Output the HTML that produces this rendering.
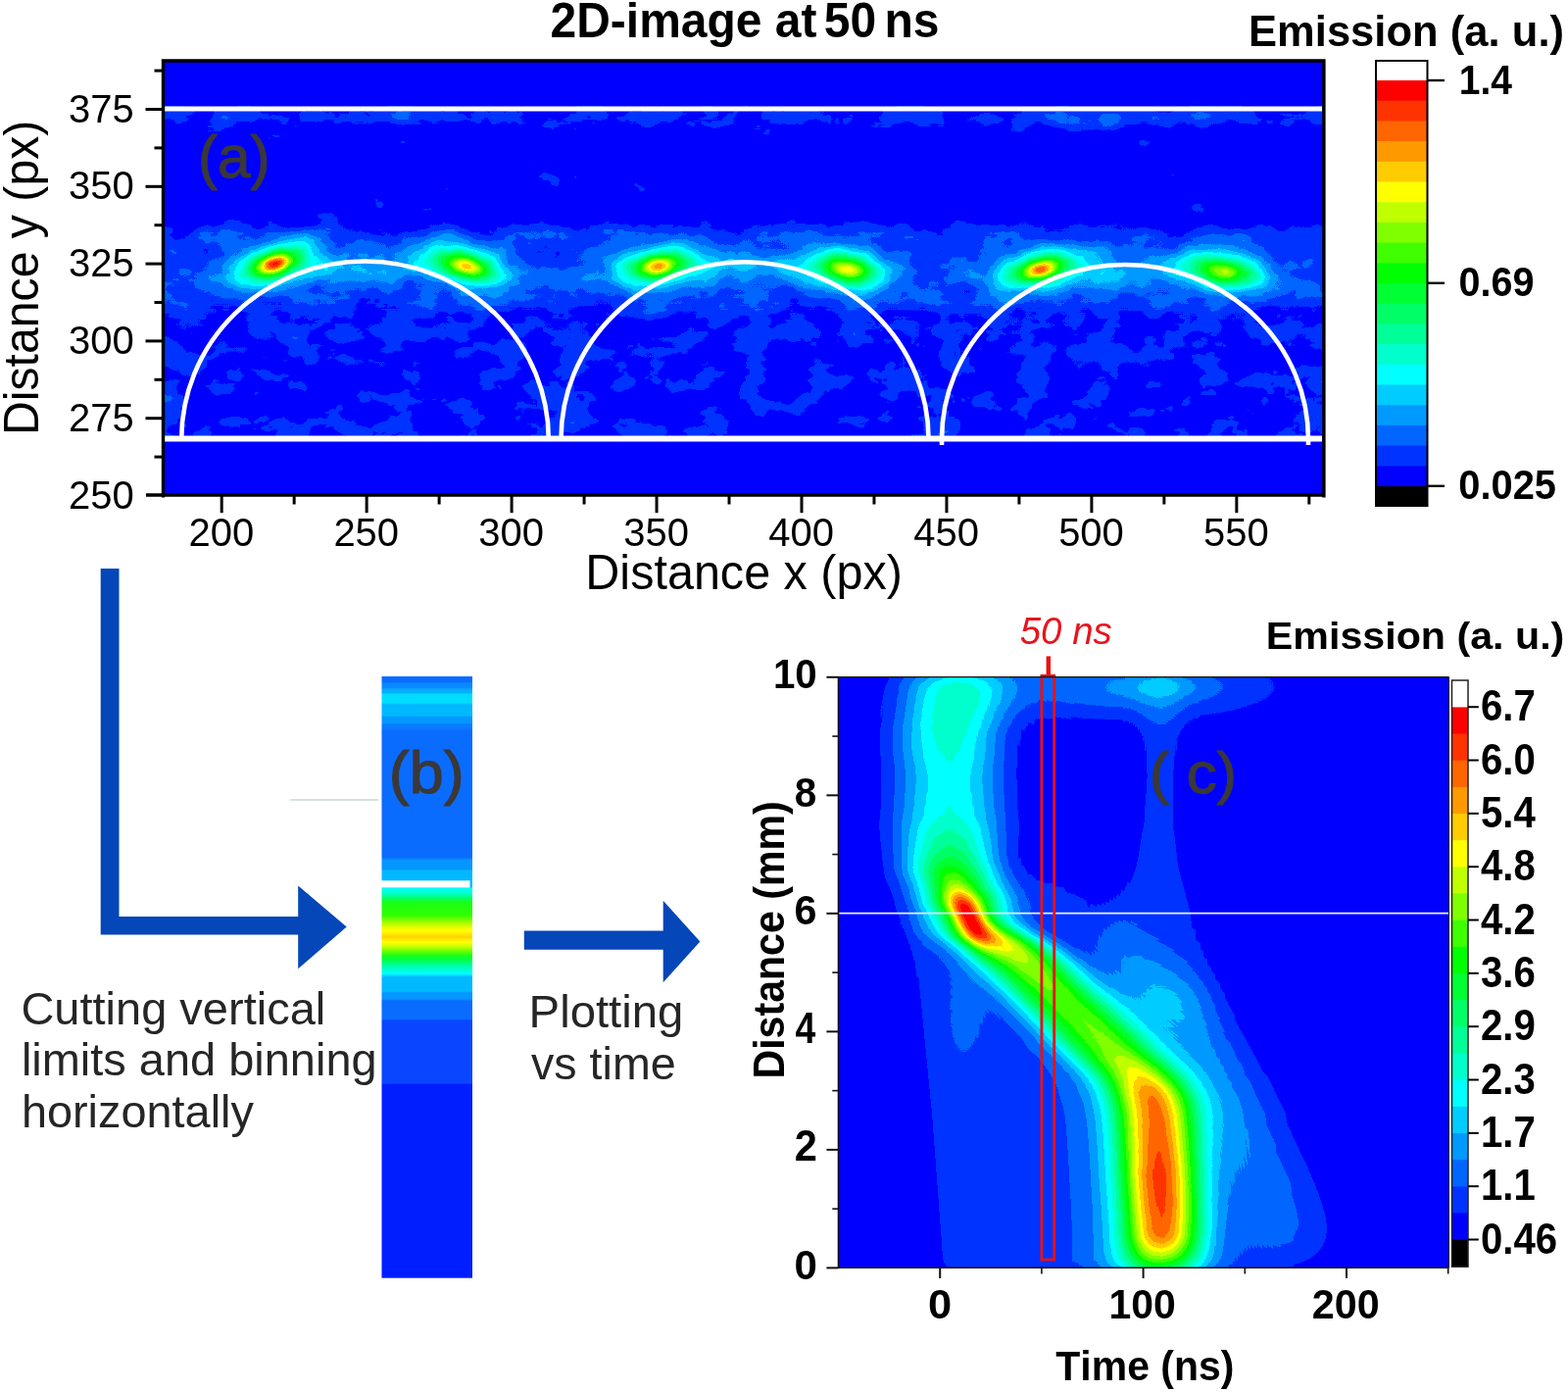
<!DOCTYPE html>
<html lang="en"><head><meta charset="utf-8"><title>2D-image at 50 ns</title>
<style>
html,body{margin:0;padding:0;background:#fff;}
body{width:1600px;height:1420px;overflow:hidden;}
svg{display:block;}
text{font-family:"Liberation Sans",sans-serif;font-kerning:none;}
.b{font-weight:bold;}
</style></head><body>
<svg width="1600" height="1420" viewBox="0 0 1600 1420">
<defs>
<radialGradient id="gs" cx="0.5" cy="0.5" r="0.5"><stop offset="0" stop-color="#fff" stop-opacity="1"/><stop offset="0.071" stop-color="#fff" stop-opacity="0.977"/><stop offset="0.143" stop-color="#fff" stop-opacity="0.912"/><stop offset="0.214" stop-color="#fff" stop-opacity="0.813"/><stop offset="0.286" stop-color="#fff" stop-opacity="0.693"/><stop offset="0.357" stop-color="#fff" stop-opacity="0.563"/><stop offset="0.429" stop-color="#fff" stop-opacity="0.438"/><stop offset="0.5" stop-color="#fff" stop-opacity="0.325"/><stop offset="0.571" stop-color="#fff" stop-opacity="0.23"/><stop offset="0.643" stop-color="#fff" stop-opacity="0.156"/><stop offset="0.714" stop-color="#fff" stop-opacity="0.101"/><stop offset="0.786" stop-color="#fff" stop-opacity="0.062"/><stop offset="0.857" stop-color="#fff" stop-opacity="0.037"/><stop offset="0.929" stop-color="#fff" stop-opacity="0.021"/><stop offset="1" stop-color="#fff" stop-opacity="0"/></radialGradient>
<filter id="cmA" filterUnits="userSpaceOnUse" x="166" y="108" width="1186" height="342" color-interpolation-filters="sRGB">
<feTurbulence type="fractalNoise" baseFrequency="0.028 0.04" numOctaves="4" seed="11" result="n"/>
<feColorMatrix in="n" type="matrix" values="1 0 0 0 0 1 0 0 0 0 1 0 0 0 0 0 0 0 0 1" result="ng"/>
<feComposite in="SourceGraphic" in2="ng" operator="arithmetic" k1="0" k2="1" k3="0.10" k4="-0.05" result="m"/>
<feComponentTransfer>
<feFuncR type="discrete" tableValues="0 0 0 0 0 0 0 0 0 0 0 0.251 0.502 0.749 1 1 1 1 1 1 1 1 1 1 1 1 1 1"/>
<feFuncG type="discrete" tableValues="0 0.2 0.4 0.6 0.8 1 1 1 1 1 1 1 1 1 1 0.8 0.6 0.4 0.2 0 0 0 0 0 0 0 0 0"/>
<feFuncB type="discrete" tableValues="1 1 1 1 1 1 0.8 0.6 0.4 0.2 0 0 0 0 0 0 0 0 0 0 0 0 0 0 0 0 0 0"/>
</feComponentTransfer><feGaussianBlur stdDeviation="0.6"/>
</filter>
<filter id="cmC" filterUnits="userSpaceOnUse" x="856" y="691" width="622" height="602" color-interpolation-filters="sRGB">
<feComponentTransfer>
<feFuncR type="discrete" tableValues="0 0 0 0 0 0 0 0 0 0 0 0.251 0.502 0.749 1 1 1 1 1 1 1 1 1 1 1 1 1 1"/>
<feFuncG type="discrete" tableValues="0 0.2 0.4 0.6 0.8 1 1 1 1 1 1 1 1 1 1 0.8 0.6 0.4 0.2 0 0 0 0 0 0 0 0 0"/>
<feFuncB type="discrete" tableValues="1 1 1 1 1 1 0.8 0.6 0.4 0.2 0 0 0 0 0 0 0 0 0 0 0 0 0 0 0 0 0 0"/>
</feComponentTransfer><feGaussianBlur stdDeviation="0.7"/>
</filter>
<filter id="bC8" filterUnits="userSpaceOnUse" x="706" y="541" width="922" height="902" color-interpolation-filters="sRGB"><feGaussianBlur stdDeviation="8"/></filter>
<filter id="bA6" filterUnits="userSpaceOnUse" x="66" y="8" width="1386" height="542" color-interpolation-filters="sRGB"><feGaussianBlur stdDeviation="6"/></filter>
<filter id="bA12" filterUnits="userSpaceOnUse" x="66" y="8" width="1386" height="542" color-interpolation-filters="sRGB"><feGaussianBlur stdDeviation="12"/></filter>
<clipPath id="clA"><rect x="166" y="108" width="1186" height="342"/></clipPath>
<clipPath id="clC"><rect x="856" y="691" width="622" height="602"/></clipPath>
<linearGradient id="gb" gradientUnits="userSpaceOnUse" x1="0" y1="690" x2="0" y2="1304"><stop offset="0" stop-color="#0a6cff"/><stop offset="0.009" stop-color="#0a6cff"/><stop offset="0.011" stop-color="#0a84ff"/><stop offset="0.019" stop-color="#0a8cff"/><stop offset="0.021" stop-color="#05a8ff"/><stop offset="0.027" stop-color="#05b0ff"/><stop offset="0.03" stop-color="#00dcff"/><stop offset="0.044" stop-color="#00dcff"/><stop offset="0.047" stop-color="#00b8ff"/><stop offset="0.065" stop-color="#00b8ff"/><stop offset="0.068" stop-color="#0596ff"/><stop offset="0.077" stop-color="#0596ff"/><stop offset="0.08" stop-color="#087cff"/><stop offset="0.086" stop-color="#087cff"/><stop offset="0.09" stop-color="#0a6cff"/><stop offset="0.301" stop-color="#0a6cff"/><stop offset="0.305" stop-color="#0596ff"/><stop offset="0.32" stop-color="#0596ff"/><stop offset="0.323" stop-color="#00b8ff"/><stop offset="0.35" stop-color="#00b8ff"/><stop offset="0.352" stop-color="#00fff0"/><stop offset="0.36" stop-color="#00ffd0"/><stop offset="0.368" stop-color="#00ff70"/><stop offset="0.375" stop-color="#18ff18"/><stop offset="0.397" stop-color="#30ff00"/><stop offset="0.407" stop-color="#90ff00"/><stop offset="0.417" stop-color="#e8ff00"/><stop offset="0.423" stop-color="#ffff00"/><stop offset="0.433" stop-color="#ffd200"/><stop offset="0.441" stop-color="#ffff00"/><stop offset="0.448" stop-color="#d0ff00"/><stop offset="0.456" stop-color="#70ff00"/><stop offset="0.464" stop-color="#18ff18"/><stop offset="0.472" stop-color="#00ff50"/><stop offset="0.48" stop-color="#00ffa0"/><stop offset="0.489" stop-color="#00ffe0"/><stop offset="0.494" stop-color="#00ffff"/><stop offset="0.497" stop-color="#00d8ff"/><stop offset="0.5" stop-color="#00b8ff"/><stop offset="0.523" stop-color="#00b8ff"/><stop offset="0.526" stop-color="#0596ff"/><stop offset="0.536" stop-color="#0596ff"/><stop offset="0.539" stop-color="#0a6cff"/><stop offset="0.569" stop-color="#0a6cff"/><stop offset="0.572" stop-color="#0a46ff"/><stop offset="0.676" stop-color="#0a46ff"/><stop offset="0.678" stop-color="#001eff"/><stop offset="1" stop-color="#001eff"/></linearGradient>
<linearGradient id="gr1" gradientUnits="userSpaceOnUse" x1="0" y1="680" x2="0" y2="1302"><stop offset="0" stop-color="#fff" stop-opacity="0.084"/><stop offset="0.016" stop-color="#fff" stop-opacity="0.099"/><stop offset="0.032" stop-color="#fff" stop-opacity="0.153"/><stop offset="0.048" stop-color="#fff" stop-opacity="0.167"/><stop offset="0.092" stop-color="#fff" stop-opacity="0.178"/><stop offset="0.137" stop-color="#fff" stop-opacity="0.164"/><stop offset="0.153" stop-color="#fff" stop-opacity="0.156"/><stop offset="0.161" stop-color="#fff" stop-opacity="0.149"/><stop offset="0.193" stop-color="#fff" stop-opacity="0.145"/><stop offset="0.228" stop-color="#fff" stop-opacity="0.151"/><stop offset="0.249" stop-color="#fff" stop-opacity="0.162"/><stop offset="0.257" stop-color="#fff" stop-opacity="0.174"/><stop offset="0.27" stop-color="#fff" stop-opacity="0.194"/><stop offset="0.305" stop-color="#fff" stop-opacity="0.256"/><stop offset="0.322" stop-color="#fff" stop-opacity="0.308"/><stop offset="0.331" stop-color="#fff" stop-opacity="0.334"/><stop offset="0.338" stop-color="#fff" stop-opacity="0.351"/><stop offset="0.346" stop-color="#fff" stop-opacity="0.367"/><stop offset="0.354" stop-color="#fff" stop-opacity="0.375"/><stop offset="0.362" stop-color="#fff" stop-opacity="0.391"/><stop offset="0.37" stop-color="#fff" stop-opacity="0.395"/><stop offset="0.378" stop-color="#fff" stop-opacity="0.437"/><stop offset="0.381" stop-color="#fff" stop-opacity="0.453"/><stop offset="0.386" stop-color="#fff" stop-opacity="0.448"/><stop offset="0.391" stop-color="#fff" stop-opacity="0.445"/><stop offset="0.394" stop-color="#fff" stop-opacity="0.43"/><stop offset="0.402" stop-color="#fff" stop-opacity="0.404"/><stop offset="0.41" stop-color="#fff" stop-opacity="0.403"/><stop offset="0.418" stop-color="#fff" stop-opacity="0.413"/><stop offset="0.426" stop-color="#fff" stop-opacity="0.462"/><stop offset="0.429" stop-color="#fff" stop-opacity="0.493"/><stop offset="0.434" stop-color="#fff" stop-opacity="0.53"/><stop offset="0.439" stop-color="#fff" stop-opacity="0.556"/><stop offset="0.442" stop-color="#fff" stop-opacity="0.561"/><stop offset="0.45" stop-color="#fff" stop-opacity="0.561"/><stop offset="0.458" stop-color="#fff" stop-opacity="0.518"/><stop offset="0.46" stop-color="#fff" stop-opacity="0.507"/><stop offset="0.466" stop-color="#fff" stop-opacity="0.49"/><stop offset="0.474" stop-color="#fff" stop-opacity="0.466"/><stop offset="0.482" stop-color="#fff" stop-opacity="0.442"/><stop offset="0.49" stop-color="#fff" stop-opacity="0.419"/><stop offset="0.516" stop-color="#fff" stop-opacity="0.393"/><stop offset="0.584" stop-color="#fff" stop-opacity="0.382"/><stop offset="0.595" stop-color="#fff" stop-opacity="0.387"/><stop offset="0.611" stop-color="#fff" stop-opacity="0.379"/><stop offset="0.627" stop-color="#fff" stop-opacity="0.38"/><stop offset="0.651" stop-color="#fff" stop-opacity="0.425"/><stop offset="0.675" stop-color="#fff" stop-opacity="0.478"/><stop offset="0.699" stop-color="#fff" stop-opacity="0.57"/><stop offset="0.701" stop-color="#fff" stop-opacity="0.574"/><stop offset="0.707" stop-color="#fff" stop-opacity="0.572"/><stop offset="0.796" stop-color="#fff" stop-opacity="0.623"/><stop offset="0.836" stop-color="#fff" stop-opacity="0.651"/><stop offset="0.887" stop-color="#fff" stop-opacity="0.642"/><stop offset="0.936" stop-color="#fff" stop-opacity="0.604"/><stop offset="0.961" stop-color="#fff" stop-opacity="0.45"/><stop offset="0.984" stop-color="#fff" stop-opacity="0.256"/><stop offset="1" stop-color="#fff" stop-opacity="0.158"/></linearGradient><linearGradient id="gr2" gradientUnits="userSpaceOnUse" x1="0" y1="680" x2="0" y2="1302"><stop offset="0" stop-color="#fff" stop-opacity="0.114"/><stop offset="0.322" stop-color="#fff" stop-opacity="0.114"/><stop offset="0.41" stop-color="#fff" stop-opacity="0.152"/><stop offset="0.595" stop-color="#fff" stop-opacity="0.127"/><stop offset="0.707" stop-color="#fff" stop-opacity="0.279"/><stop offset="1" stop-color="#fff" stop-opacity="0.279"/></linearGradient><linearGradient id="gr3" gradientUnits="userSpaceOnUse" x1="0" y1="680" x2="0" y2="1302"><stop offset="0" stop-color="#fff" stop-opacity="0.04"/><stop offset="0.08" stop-color="#fff" stop-opacity="0.06"/><stop offset="0.096" stop-color="#fff" stop-opacity="0.066"/><stop offset="0.129" stop-color="#fff" stop-opacity="0.084"/><stop offset="0.177" stop-color="#fff" stop-opacity="0.092"/><stop offset="0.193" stop-color="#fff" stop-opacity="0.083"/><stop offset="0.257" stop-color="#fff" stop-opacity="0.066"/><stop offset="0.322" stop-color="#fff" stop-opacity="0.053"/><stop offset="0.386" stop-color="#fff" stop-opacity="0.05"/><stop offset="0.402" stop-color="#fff" stop-opacity="0.05"/><stop offset="0.45" stop-color="#fff" stop-opacity="0.041"/><stop offset="0.514" stop-color="#fff" stop-opacity="0.029"/><stop offset="0.611" stop-color="#fff" stop-opacity="0"/></linearGradient><linearGradient id="gr4" gradientUnits="userSpaceOnUse" x1="0" y1="680" x2="0" y2="1302"><stop offset="0.322" stop-color="#fff" stop-opacity="0"/><stop offset="0.37" stop-color="#fff" stop-opacity="0.06"/><stop offset="0.45" stop-color="#fff" stop-opacity="0.082"/><stop offset="0.498" stop-color="#fff" stop-opacity="0.132"/><stop offset="0.547" stop-color="#fff" stop-opacity="0.208"/><stop offset="0.611" stop-color="#fff" stop-opacity="0.175"/><stop offset="0.691" stop-color="#fff" stop-opacity="0.121"/><stop offset="0.879" stop-color="#fff" stop-opacity="0.126"/><stop offset="0.932" stop-color="#fff" stop-opacity="0.121"/><stop offset="0.973" stop-color="#fff" stop-opacity="0.077"/><stop offset="1" stop-color="#fff" stop-opacity="0.033"/></linearGradient><filter id="bx1" filterUnits="userSpaceOnUse" x="656" y="591" width="1022" height="802" color-interpolation-filters="sRGB"><feGaussianBlur stdDeviation="22 5"/></filter><filter id="bx2" filterUnits="userSpaceOnUse" x="656" y="591" width="1022" height="802" color-interpolation-filters="sRGB"><feGaussianBlur stdDeviation="45 8"/></filter><filter id="bx3" filterUnits="userSpaceOnUse" x="656" y="591" width="1022" height="802" color-interpolation-filters="sRGB"><feGaussianBlur stdDeviation="14 8"/></filter><filter id="bx4" filterUnits="userSpaceOnUse" x="656" y="591" width="1022" height="802" color-interpolation-filters="sRGB"><feGaussianBlur stdDeviation="32 10"/></filter>
</defs>
<rect width="1600" height="1420" fill="#fff"/>
<rect x="166" y="62" width="1185" height="443" fill="#0000FF"/>
<g filter="url(#cmA)"><g clip-path="url(#clA)" style="isolation:isolate">
<rect x="166" y="108" width="1186" height="342" fill="#000"/>
<g style="mix-blend-mode:plus-lighter"><rect x="166" y="108" width="1186" height="342" fill="#fff" opacity="0.006"/></g>
<g filter="url(#bA6)" style="mix-blend-mode:plus-lighter"><rect x="100" y="231" width="1320" height="84" fill="#fff" opacity="0.048"/></g>
<g filter="url(#bA12)" style="mix-blend-mode:plus-lighter"><rect x="100" y="315" width="1320" height="150" fill="#fff" opacity="0.021"/></g>
<g filter="url(#bA6)" style="mix-blend-mode:plus-lighter"><rect x="100" y="110" width="1320" height="18" fill="#fff" opacity="0.04"/></g>
<g filter="url(#bA12)" style="mix-blend-mode:plus-lighter"><rect x="140" y="320" width="56" height="140" fill="#fff" opacity="0.02"/></g>
<g filter="url(#bA12)" style="mix-blend-mode:plus-lighter"><rect x="548" y="320" width="38" height="140" fill="#fff" opacity="0.02"/></g>
<g filter="url(#bA12)" style="mix-blend-mode:plus-lighter"><rect x="936" y="320" width="38" height="140" fill="#fff" opacity="0.02"/></g>
<g filter="url(#bA12)" style="mix-blend-mode:plus-lighter"><rect x="1326" y="320" width="54" height="140" fill="#fff" opacity="0.02"/></g>
<g style="mix-blend-mode:plus-lighter"><ellipse cx="372.5" cy="330" rx="285" ry="66" fill="url(#gs)" opacity="0.014"/></g>
<g style="mix-blend-mode:plus-lighter"><ellipse cx="761" cy="330" rx="285" ry="66" fill="url(#gs)" opacity="0.014"/></g>
<g style="mix-blend-mode:plus-lighter"><ellipse cx="1149" cy="330" rx="285" ry="66" fill="url(#gs)" opacity="0.014"/></g>
<g style="mix-blend-mode:plus-lighter"><ellipse cx="281" cy="269" rx="165" ry="60" fill="url(#gs)" opacity="0.043" transform="rotate(-8 281 269)"/></g>
<g style="mix-blend-mode:plus-lighter"><ellipse cx="281" cy="269" rx="81" ry="37.5" fill="url(#gs)" opacity="0.3" transform="rotate(-16 281 269)"/></g>
<g style="mix-blend-mode:plus-lighter"><ellipse cx="281" cy="269" rx="31.5" ry="16.5" fill="url(#gs)" opacity="0.271" transform="rotate(-16 281 269)"/></g>
<g style="mix-blend-mode:plus-lighter"><ellipse cx="475.6" cy="271.2" rx="165" ry="60" fill="url(#gs)" opacity="0.043" transform="rotate(7.5 475.6 271.2)"/></g>
<g style="mix-blend-mode:plus-lighter"><ellipse cx="475.6" cy="271.2" rx="81" ry="37.5" fill="url(#gs)" opacity="0.3" transform="rotate(15 475.6 271.2)"/></g>
<g style="mix-blend-mode:plus-lighter"><ellipse cx="475.6" cy="271.2" rx="31.5" ry="16.5" fill="url(#gs)" opacity="0.157" transform="rotate(15 475.6 271.2)"/></g>
<g style="mix-blend-mode:plus-lighter"><ellipse cx="671.3" cy="272" rx="165" ry="60" fill="url(#gs)" opacity="0.043" transform="rotate(-4.5 671.3 272)"/></g>
<g style="mix-blend-mode:plus-lighter"><ellipse cx="671.3" cy="272" rx="81" ry="37.5" fill="url(#gs)" opacity="0.3" transform="rotate(-9 671.3 272)"/></g>
<g style="mix-blend-mode:plus-lighter"><ellipse cx="671.3" cy="272" rx="31.5" ry="16.5" fill="url(#gs)" opacity="0.157" transform="rotate(-9 671.3 272)"/></g>
<g style="mix-blend-mode:plus-lighter"><ellipse cx="863.8" cy="274.5" rx="165" ry="60" fill="url(#gs)" opacity="0.043" transform="rotate(5.5 863.8 274.5)"/></g>
<g style="mix-blend-mode:plus-lighter"><ellipse cx="863.8" cy="274.5" rx="81" ry="37.5" fill="url(#gs)" opacity="0.3" transform="rotate(11 863.8 274.5)"/></g>
<g style="mix-blend-mode:plus-lighter"><ellipse cx="863.8" cy="274.5" rx="31.5" ry="16.5" fill="url(#gs)" opacity="0.107" transform="rotate(11 863.8 274.5)"/></g>
<g style="mix-blend-mode:plus-lighter"><ellipse cx="1061.3" cy="275" rx="165" ry="60" fill="url(#gs)" opacity="0.043" transform="rotate(-5.5 1061.3 275)"/></g>
<g style="mix-blend-mode:plus-lighter"><ellipse cx="1061.3" cy="275" rx="81" ry="37.5" fill="url(#gs)" opacity="0.3" transform="rotate(-11 1061.3 275)"/></g>
<g style="mix-blend-mode:plus-lighter"><ellipse cx="1061.3" cy="275" rx="31.5" ry="16.5" fill="url(#gs)" opacity="0.207" transform="rotate(-11 1061.3 275)"/></g>
<g style="mix-blend-mode:plus-lighter"><ellipse cx="1248.8" cy="276.3" rx="165" ry="60" fill="url(#gs)" opacity="0.043" transform="rotate(5 1248.8 276.3)"/></g>
<g style="mix-blend-mode:plus-lighter"><ellipse cx="1248.8" cy="276.3" rx="81" ry="37.5" fill="url(#gs)" opacity="0.286" transform="rotate(10 1248.8 276.3)"/></g>
<g style="mix-blend-mode:plus-lighter"><ellipse cx="1248.8" cy="276.3" rx="31.5" ry="16.5" fill="url(#gs)" opacity="0.071" transform="rotate(10 1248.8 276.3)"/></g>
<g style="mix-blend-mode:plus-lighter"><ellipse cx="372.5" cy="274.5" rx="186" ry="30" fill="url(#gs)" opacity="0.071"/></g>
<g style="mix-blend-mode:plus-lighter"><ellipse cx="761" cy="275.5" rx="186" ry="30" fill="url(#gs)" opacity="0.071"/></g>
<g style="mix-blend-mode:plus-lighter"><ellipse cx="1149" cy="279" rx="186" ry="30" fill="url(#gs)" opacity="0.071"/></g>
<g style="mix-blend-mode:plus-lighter"><ellipse cx="1120" cy="123" rx="165" ry="18" fill="url(#gs)" opacity="0.036"/></g>
</g></g>
<g stroke="#fff" fill="none">
<path d="M167 111H1349" stroke-width="5"/>
<path d="M167 447.6H1349" stroke-width="6"/>
<path d="M185.2 448V448A187.3 181.5 0 0 1 559.8 448V448" stroke-width="4.6"/>
<path d="M572.5 449V448A187.5 180.7 0 0 1 947.5 448V449" stroke-width="4.6"/>
<path d="M961 454V448A187 178 0 0 1 1335 448V454" stroke-width="4.6"/>
</g>
<path d="M166.5 60.3V507.4M165 62H1352.6M1350.9 60.3V507.4M149 505H1352.6" stroke="#000" stroke-width="3.4" fill="none"/>
<g stroke="#000" stroke-width="3" fill="none">
<path d="M157.5 466.1H166"/>
<path d="M148.5 426.7H166"/>
<path d="M157.5 387.3H166"/>
<path d="M148.5 347.9H166"/>
<path d="M157.5 308.5H166"/>
<path d="M148.5 269.1H166"/>
<path d="M157.5 229.7H166"/>
<path d="M148.5 190.3H166"/>
<path d="M157.5 150.9H166"/>
<path d="M148.5 111.5H166"/>
<path d="M157.5 72.1H166"/>
<path d="M226.2 505V523.2"/>
<path d="M300.17 505V514.5"/>
<path d="M374.15 505V523.2"/>
<path d="M448.12 505V514.5"/>
<path d="M522.1 505V523.2"/>
<path d="M596.07 505V514.5"/>
<path d="M670.05 505V523.2"/>
<path d="M744.02 505V514.5"/>
<path d="M818 505V523.2"/>
<path d="M891.97 505V514.5"/>
<path d="M965.95 505V523.2"/>
<path d="M1039.92 505V514.5"/>
<path d="M1113.9 505V523.2"/>
<path d="M1187.87 505V514.5"/>
<path d="M1261.85 505V523.2"/>
<path d="M1335.82 505V514.5"/>
</g>
<g font-size="40" fill="#000">
<text x="136.8" y="518.5" text-anchor="end">250</text>
<text x="136.8" y="439.7" text-anchor="end">275</text>
<text x="136.8" y="360.9" text-anchor="end">300</text>
<text x="136.8" y="282.1" text-anchor="end">325</text>
<text x="136.8" y="203.3" text-anchor="end">350</text>
<text x="136.8" y="124.5" text-anchor="end">375</text>
<text x="225.8" y="556.7" text-anchor="middle">200</text>
<text x="373.75" y="556.7" text-anchor="middle">250</text>
<text x="521.7" y="556.7" text-anchor="middle">300</text>
<text x="669.65" y="556.7" text-anchor="middle">350</text>
<text x="817.6" y="556.7" text-anchor="middle">400</text>
<text x="965.55" y="556.7" text-anchor="middle">450</text>
<text x="1113.5" y="556.7" text-anchor="middle">500</text>
<text x="1261.45" y="556.7" text-anchor="middle">550</text>
</g>
<rect x="1404" y="62" width="52.5" height="21" fill="#fff"/>
<rect x="1404" y="82" width="52.5" height="21.3" fill="#FF0000"/>
<rect x="1404" y="102.7" width="52.5" height="21.3" fill="#FF3300"/>
<rect x="1404" y="123.4" width="52.5" height="21.3" fill="#FF6600"/>
<rect x="1404" y="144.1" width="52.5" height="21.3" fill="#FF9900"/>
<rect x="1404" y="164.8" width="52.5" height="21.3" fill="#FFCC00"/>
<rect x="1404" y="185.5" width="52.5" height="21.3" fill="#FFFF00"/>
<rect x="1404" y="206.2" width="52.5" height="21.3" fill="#BFFF00"/>
<rect x="1404" y="226.9" width="52.5" height="21.3" fill="#80FF00"/>
<rect x="1404" y="247.6" width="52.5" height="21.3" fill="#40FF00"/>
<rect x="1404" y="268.3" width="52.5" height="21.3" fill="#00FF00"/>
<rect x="1404" y="289" width="52.5" height="21.3" fill="#00FF33"/>
<rect x="1404" y="309.7" width="52.5" height="21.3" fill="#00FF66"/>
<rect x="1404" y="330.4" width="52.5" height="21.3" fill="#00FF99"/>
<rect x="1404" y="351.1" width="52.5" height="21.3" fill="#00FFCC"/>
<rect x="1404" y="371.8" width="52.5" height="21.3" fill="#00FFFF"/>
<rect x="1404" y="392.5" width="52.5" height="21.3" fill="#00CCFF"/>
<rect x="1404" y="413.2" width="52.5" height="21.3" fill="#0099FF"/>
<rect x="1404" y="433.9" width="52.5" height="21.3" fill="#0066FF"/>
<rect x="1404" y="454.6" width="52.5" height="21.3" fill="#0033FF"/>
<rect x="1404" y="475.3" width="52.5" height="21.3" fill="#0000FF"/>
<rect x="1404" y="496" width="52.5" height="20" fill="#000"/>
<rect x="1404" y="62" width="52.5" height="454" fill="none" stroke="#000" stroke-width="2"/>
<path d="M1456.5 82H1474" stroke="#000" stroke-width="2.4"/>
<path d="M1456.5 288.8H1474" stroke="#000" stroke-width="2.4"/>
<path d="M1456.5 495.8H1474" stroke="#000" stroke-width="2.4"/>
<text class="b" font-size="42.88" transform="translate(1488.79 96.40) scale(0.9096 1)" fill="#000">1.4</text>
<text class="b" font-size="41.67" transform="translate(1488.43 302.39) scale(0.9499 1)" fill="#000">0.69</text>
<text class="b" font-size="41.67" transform="translate(1488.22 509.29) scale(0.9570 1)" fill="#000">0.025</text>
<text class="b" font-size="48" transform="translate(561.5 38.4) scale(1 1.035)">2D-image at<tspan dx="-6"> 50</tspan><tspan dx="-5"> ns</tspan></text>
<text class="b" font-size="43.5" x="1274" y="47.3" textLength="322" lengthAdjust="spacing">Emission (a. u.)</text>
<text font-size="48.2" transform="translate(39.3 444) rotate(-90) scale(1 1.055)">Distance y (px)</text>
<text font-size="48.55" transform="translate(597.3 600.6) scale(1 1.047)">Distance x (px)</text>
<text font-size="60.75" transform="translate(201.97 180.72) scale(0.9908 1)" fill="#3a3838" stroke="#3a3838" stroke-width="1.2" stroke-linejoin="round">(a)</text>
<rect x="389.5" y="690" width="92.5" height="613.7" fill="url(#gb)"/>
<rect x="386" y="898.3" width="93.5" height="7.2" fill="#fff"/>
<path d="M296 816H386" stroke="#c8d8d0" stroke-width="1.6" fill="none"/>
<path fill="#0546B9" d="M102.7 580H121.5V935H304.2V903.4L353.7 945.6L304.2 988.2V953.6H102.7Z"/>
<path fill="#0546B9" d="M534.8 949.6H676.7V918.8L714.3 960.5L676.7 1002.3V968.8H534.8Z"/>
<g font-size="45.5" fill="#262626">
<text transform="translate(21.4 1044.6) scale(1.033 1)">Cutting vertical</text>
<text transform="translate(21.9 1097.2) scale(1.032 1)">limits and binning</text>
<text transform="translate(21.9 1149.7) scale(1.03 1)">horizontally</text>
<text transform="translate(539.6 1048.2) scale(1.04 1)">Plotting</text>
<text transform="translate(542 1100.7) scale(1.025 1)">vs time</text>
</g>
<text font-size="61.29" transform="translate(396.80 808.61) scale(1.0252 1)" fill="#3a3838" stroke="#3a3838" stroke-width="1.2" stroke-linejoin="round">(b)</text>
<rect x="856" y="691" width="622" height="602" fill="#0000FF"/>
<g filter="url(#cmC)"><g clip-path="url(#clC)" style="isolation:isolate">
<rect x="856" y="691" width="622" height="602" fill="#000"/>
<g filter="url(#bx2)" style="mix-blend-mode:plus-lighter"><path d="M942 680 941.742 684 941.44 688 941.099 692 940.725 696 940.32 700 939.888 704 939.382 708 938.805 712 938.18 716 937.535 720 936.895 724 936.285 728 935.705 732 935.04 736 934.349 740 933.722 744 933.246 748 933.011 752 933.007 756 933.035 760 933.081 764 933.14 768 933.207 772 933.276 776 933.344 780 933.405 784 933.455 788 933.488 792 933.5 796 933.5 800 933.5 804 933.5 808 933.5 812 933.5 816 933.5 820 933.5 824 933.5 828 933.5 832 933.5 836 933.504 840 933.534 844 933.593 848 933.681 852 933.795 856 933.936 860 934.103 864 934.293 868 934.507 872 934.743 876 935 880 935.508 884 936.435 888 937.688 892 939.174 896 940.801 900 942.477 904 944.107 908 945.6 912 946.913 916 948.142 920 949.404 924 950.816 928 952.495 932 954.576 936 957.48 940 961.214 944 965.598 948 970.452 952 975.951 956 983.039 960 989.434 964 994.891 968 999.97 972 1004.753 976 1009.324 980 1013.718 984 1017.85 988 1021.806 992 1025.689 996 1029.604 1000 1033.601 1004 1037.598 1008 1041.59 1012 1045.577 1016 1049.561 1020 1053.54 1024 1057.517 1028 1061.49 1032 1065.461 1036 1069.43 1040 1073.397 1044 1077.356 1048 1081.306 1052 1085.25 1056 1089.192 1060 1093.136 1064 1097.084 1068 1101.039 1072 1105.006 1076 1109.077 1080 1113.371 1084 1117.705 1088 1121.884 1092 1125.714 1096 1129 1100 1131.833 1104 1134.391 1108 1136.606 1112 1138.421 1116 1140.037 1120 1141.481 1124 1142.665 1128 1143.5 1132 1144.094 1136 1144.617 1140 1145.079 1144 1145.488 1148 1145.852 1152 1146.181 1156 1146.483 1160 1146.768 1164 1147.043 1168 1147.318 1172 1147.598 1176 1147.863 1180 1148.11 1184 1148.342 1188 1148.565 1192 1148.783 1196 1149 1200 1149.226 1204 1149.463 1208 1149.706 1212 1149.952 1216 1150.196 1220 1150.433 1224 1150.658 1228 1150.868 1232 1151.058 1236 1151.224 1240 1151.36 1244 1151.463 1248 1151.532 1252 1151.595 1256 1151.654 1260 1151.71 1264 1151.763 1268 1151.811 1272 1151.855 1276 1151.894 1280 1151.928 1284 1151.955 1288 1151.977 1292 1151.991 1296 1151.999 1300 1221.999 1300 1221.991 1296 1221.977 1292 1221.955 1288 1221.928 1284 1221.894 1280 1221.855 1276 1221.811 1272 1221.763 1268 1221.71 1264 1221.654 1260 1221.595 1256 1221.532 1252 1221.463 1248 1221.36 1244 1221.224 1240 1221.058 1236 1220.868 1232 1220.658 1228 1220.433 1224 1220.196 1220 1219.952 1216 1219.706 1212 1219.463 1208 1219.226 1204 1219 1200 1218.783 1196 1218.565 1192 1218.342 1188 1218.11 1184 1217.863 1180 1217.598 1176 1217.318 1172 1217.043 1168 1216.768 1164 1216.483 1160 1216.181 1156 1215.852 1152 1215.488 1148 1215.079 1144 1214.617 1140 1214.094 1136 1213.5 1132 1212.665 1128 1211.481 1124 1210.037 1120 1208.421 1116 1206.606 1112 1204.391 1108 1201.833 1104 1199 1100 1195.714 1096 1191.884 1092 1187.705 1088 1183.371 1084 1179.077 1080 1175.006 1076 1171.039 1072 1167.084 1068 1163.136 1064 1159.192 1060 1155.25 1056 1151.306 1052 1147.356 1048 1143.397 1044 1139.43 1040 1135.461 1036 1131.49 1032 1127.517 1028 1123.54 1024 1119.561 1020 1115.577 1016 1111.59 1012 1107.598 1008 1103.601 1004 1099.604 1000 1095.689 996 1091.806 992 1087.85 988 1083.718 984 1079.324 980 1074.753 976 1069.97 972 1064.891 968 1059.434 964 1053.039 960 1045.951 956 1040.452 952 1035.598 948 1031.214 944 1027.48 940 1024.576 936 1022.495 932 1020.816 928 1019.404 924 1018.142 920 1016.913 916 1015.6 912 1014.107 908 1012.477 904 1010.801 900 1009.174 896 1007.688 892 1006.435 888 1005.508 884 1005 880 1004.743 876 1004.507 872 1004.293 868 1004.103 864 1003.936 860 1003.795 856 1003.681 852 1003.593 848 1003.534 844 1003.504 840 1003.5 836 1003.5 832 1003.5 828 1003.5 824 1003.5 820 1003.5 816 1003.5 812 1003.5 808 1003.5 804 1003.5 800 1003.5 796 1003.488 792 1003.455 788 1003.405 784 1003.344 780 1003.276 776 1003.207 772 1003.14 768 1003.081 764 1003.035 760 1003.007 756 1003.011 752 1003.246 748 1003.722 744 1004.349 740 1005.04 736 1005.705 732 1006.285 728 1006.895 724 1007.535 720 1008.18 716 1008.805 712 1009.382 708 1009.888 704 1010.32 700 1010.725 696 1011.099 692 1011.44 688 1011.742 684 1012 680Z" fill="url(#gr2)"/></g>
<g filter="url(#bx1)" style="mix-blend-mode:plus-lighter"><path d="M937 680 936.692 684 936.34 688 935.949 692 935.525 696 935.07 700 934.588 704 934.032 708 933.405 712 932.73 716 932.035 720 931.345 724 930.685 728 930.055 732 929.34 736 928.599 740 927.922 744 927.396 748 927.111 752 927.057 756 927.035 760 927.031 764 927.04 768 927.057 772 927.076 776 927.094 780 927.105 784 927.105 788 927.088 792 927.05 796 927 800 926.95 804 926.9 808 926.85 812 926.8 816 926.75 820 926.7 824 926.65 828 926.6 832 926.55 836 926.504 840 927.334 844 928.193 848 929.081 852 929.995 856 930.936 860 931.903 864 932.893 868 933.84 872 934.743 876 935.667 880 936.841 884 938.435 888 940.355 892 942.508 896 944.801 900 946.797 904 948.747 908 950.56 912 952.193 916 953.742 920 955.324 924 957.056 928 959.055 932 961.456 936 964.68 940 968.734 944 973.438 948 977.995 952 982.58 956 988.753 960 994.234 964 998.777 968 1002.941 972 1006.81 976 1010.466 980 1013.947 984 1017.77 988 1021.619 992 1025.395 996 1029.204 1000 1033.094 1004 1036.984 1008 1040.87 1012 1044.751 1016 1048.627 1020 1052.5 1024 1056.37 1028 1060.237 1032 1064.101 1036 1067.963 1040 1071.823 1044 1075.676 1048 1079.519 1052 1083.357 1056 1087.192 1060 1091.936 1064 1096.684 1068 1101.439 1072 1106.206 1076 1111.077 1080 1116.171 1084 1121.305 1088 1126.284 1092 1130.914 1096 1135 1100 1138.633 1104 1141.991 1108 1145.006 1112 1147.432 1116 1149.091 1120 1150.577 1124 1151.804 1128 1152.682 1132 1153.318 1136 1153.885 1140 1154.389 1144 1154.841 1148 1155.248 1152 1155.62 1156 1155.965 1160 1156.292 1164 1156.61 1168 1156.927 1172 1157.251 1176 1157.559 1180 1157.848 1184 1158.123 1188 1158.389 1192 1158.649 1196 1158.909 1200 1159.178 1204 1159.457 1208 1159.744 1212 1160.032 1216 1160.319 1220 1160.598 1224 1160.867 1228 1161.12 1232 1161.353 1236 1161.561 1240 1161.74 1244 1161.885 1248 1161.997 1252 1162.103 1256 1162.205 1260 1162.304 1264 1162.399 1268 1162.491 1272 1162.577 1276 1162.659 1280 1162.735 1284 1162.806 1288 1162.87 1292 1162.927 1296 1162.978 1300 1211.02 1300 1211.056 1296 1211.084 1292 1211.105 1288 1211.12 1284 1211.13 1280 1211.133 1276 1211.132 1272 1211.127 1268 1211.117 1264 1211.103 1260 1211.086 1256 1211.067 1252 1211.04 1248 1210.98 1244 1210.887 1240 1210.764 1236 1210.617 1232 1210.45 1228 1210.267 1224 1210.073 1220 1209.872 1216 1209.669 1212 1209.468 1208 1209.274 1204 1209.091 1200 1208.916 1196 1208.741 1192 1208.561 1188 1208.372 1184 1208.168 1180 1207.946 1176 1207.708 1172 1207.476 1168 1207.244 1164 1207.002 1160 1206.743 1156 1206.456 1152 1206.135 1148 1205.769 1144 1205.35 1140 1204.869 1136 1204.318 1132 1203.526 1128 1202.385 1124 1200.984 1120 1199.41 1116 1198.206 1112 1196.791 1108 1195.033 1104 1193 1100 1190.514 1096 1187.484 1092 1184.105 1088 1180.571 1084 1177.077 1080 1173.806 1076 1170.639 1072 1167.484 1068 1164.336 1064 1161.192 1060 1157.144 1056 1153.092 1052 1149.036 1048 1144.97 1044 1140.897 1040 1136.821 1036 1132.744 1032 1128.664 1028 1124.58 1024 1120.494 1020 1116.404 1016 1112.31 1012 1108.211 1008 1104.108 1004 1100.004 1000 1095.982 996 1091.992 992 1087.93 988 1083.49 984 1078.181 980 1072.696 976 1066.998 972 1061.006 968 1054.634 964 1047.324 960 1039.322 956 1032.909 952 1027.758 948 1023.694 944 1020.28 940 1017.696 936 1015.935 932 1014.576 928 1013.484 924 1012.542 920 1011.633 916 1010.64 912 1009.467 908 1008.157 904 1006.801 900 1005.841 896 1005.021 892 1004.435 888 1004.175 884 1004.333 880 1004.743 876 1005.173 872 1005.693 868 1006.303 864 1006.936 860 1007.595 856 1008.281 852 1008.993 848 1009.734 844 1010.504 840 1010.45 836 1010.4 832 1010.35 828 1010.3 824 1010.25 820 1010.2 816 1010.15 812 1010.1 808 1010.05 804 1010 800 1009.95 796 1009.888 792 1009.805 788 1009.705 784 1009.594 780 1009.476 776 1009.357 772 1009.24 768 1009.131 764 1009.035 760 1008.957 756 1008.911 752 1009.096 748 1009.522 744 1010.099 740 1010.74 736 1011.355 732 1011.885 728 1012.445 724 1013.035 720 1013.63 716 1014.205 712 1014.732 708 1015.188 704 1015.57 700 1015.925 696 1016.249 692 1016.54 688 1016.792 684 1017 680Z" fill="url(#gr1)"/></g>
<g filter="url(#bx3)" style="mix-blend-mode:plus-lighter"><path d="M1171 680 1170.763 684 1170.525 688 1170.305 692 1170.123 696 1170 700 1169.918 704 1169.844 708 1169.779 712 1169.722 716 1169.671 720 1169.626 724 1169.585 728 1169.548 732 1169.515 736 1169.483 740 1169.773 744 1170.063 748 1170.352 752 1170.64 756 1170.925 760 1171.207 764 1171.485 768 1171.758 772 1172.025 776 1172.286 780 1172.538 784 1172.778 788 1172.595 792 1171.994 796 1171.376 800 1170.745 804 1170.104 808 1169.456 812 1168.805 816 1168.153 820 1167.504 824 1166.862 828 1166.228 832 1165.606 836 1165 840 1163.789 844 1162.588 848 1161.395 852 1160.207 856 1159.02 860 1157.831 864 1156.638 868 1155.437 872 1154.225 876 1153 880 1151.448 884 1149.864 888 1148.256 892 1146.632 896 1145 900 1143.368 904 1141.744 908 1140.136 912 1138.552 916 1137 920 1135.464 924 1133.925 928 1132.388 932 1130.856 936 1129.333 940 1127.824 944 1126.332 948 1124.861 952 1123.416 956 1122 960 1121.904 964 1121.925 968 1122.047 972 1122.255 976 1122.532 980 1122.863 984 1123.231 988 1123.62 992 1124.015 996 1124.4 1000 1124.8 1004 1125.249 1008 1125.747 1012 1126.293 1016 1126.884 1020 1127.519 1024 1128.197 1028 1128.917 1032 1129.677 1036 1130.475 1040 1131.311 1044 1132.183 1048 1133.089 1052 1134.029 1056 1135 1060 1255 1060 1253.709 1056 1252.449 1052 1251.223 1048 1250.031 1044 1248.875 1040 1247.757 1036 1246.677 1032 1245.637 1028 1244.639 1024 1243.684 1020 1242.773 1016 1241.907 1012 1241.089 1008 1240.32 1004 1239.6 1000 1238.895 996 1238.18 992 1237.471 988 1236.783 984 1236.132 980 1235.535 976 1235.007 972 1234.565 968 1234.224 964 1234 960 1232.616 956 1231.261 952 1229.932 948 1228.624 944 1227.333 940 1226.056 936 1224.788 932 1223.525 928 1222.264 924 1221 920 1219.752 916 1218.536 912 1217.344 908 1216.168 904 1215 900 1213.832 896 1212.656 892 1211.464 888 1210.248 884 1209 880 1208.025 876 1207.037 872 1206.038 868 1205.031 864 1204.02 860 1203.007 856 1201.995 852 1200.988 848 1199.989 844 1199 840 1198.646 836 1198.308 832 1197.982 828 1197.664 824 1197.353 820 1197.045 816 1196.736 812 1196.424 808 1196.105 804 1195.776 800 1195.434 796 1195.075 792 1195.098 788 1195.498 784 1195.886 780 1196.265 776 1196.638 772 1197.005 768 1197.367 764 1197.725 760 1198.08 756 1198.432 752 1198.783 748 1199.133 744 1199.483 740 1199.515 736 1199.548 732 1199.585 728 1199.626 724 1199.671 720 1199.722 716 1199.779 712 1199.844 708 1199.918 704 1200 700 1200.123 696 1200.305 692 1200.525 688 1200.763 684 1201 680Z" fill="url(#gr3)"/></g>
<g filter="url(#bx4)" style="mix-blend-mode:plus-lighter"><path d="M1030 880 1030.859 884 1032.218 888 1034.027 892 1036.234 896 1038.788 900 1041.64 904 1044.738 908 1048.031 912 1051.468 916 1055 920 1059.162 924 1064.315 928 1070.146 932 1076.343 936 1082.592 940 1088.58 944 1094.31 948 1100.29 952 1106.341 956 1112.25 960 1117.803 964 1122.788 968 1127.072 972 1131.019 976 1134.716 980 1138.178 984 1141.423 988 1144.464 992 1147.318 996 1150 1000 1152.458 1004 1154.678 1008 1156.735 1012 1158.705 1016 1160.663 1020 1162.685 1024 1164.845 1028 1167.204 1032 1169.71 1036 1172.324 1040 1175.017 1044 1177.761 1048 1180.525 1052 1183.281 1056 1186 1060 1188.732 1064 1191.532 1068 1194.38 1072 1197.256 1076 1200.14 1080 1203.012 1084 1205.852 1088 1208.639 1092 1211.355 1096 1213.978 1100 1216.489 1104 1218.867 1108 1221.103 1112 1223.25 1116 1225.325 1120 1227.334 1124 1229.285 1128 1231.184 1132 1233.039 1136 1234.856 1140 1236.643 1144 1238.406 1148 1240.153 1152 1241.891 1156 1243.626 1160 1245.366 1164 1247.118 1168 1248.89 1172 1250.697 1176 1252.531 1180 1254.378 1184 1256.228 1188 1258.07 1192 1259.89 1196 1261.678 1200 1263.421 1204 1265.109 1208 1266.728 1212 1268.269 1216 1269.718 1220 1271.065 1224 1272.304 1228 1273.577 1232 1274.891 1236 1276.181 1240 1277.383 1244 1278.43 1248 1279.259 1252 1279.804 1256 1280 1260 1279.971 1264 1279.872 1268 1279.689 1272 1279.404 1276 1279.003 1280 1278.469 1284 1277.787 1288 1276.94 1292 1275.913 1296 1274.69 1300 1334.69 1300 1335.913 1296 1336.94 1292 1337.787 1288 1338.469 1284 1339.003 1280 1339.404 1276 1339.689 1272 1339.872 1268 1339.971 1264 1340 1260 1339.804 1256 1339.259 1252 1338.43 1248 1337.383 1244 1336.181 1240 1334.891 1236 1333.577 1232 1332.304 1228 1331.065 1224 1329.718 1220 1328.269 1216 1326.728 1212 1325.109 1208 1323.421 1204 1321.678 1200 1319.89 1196 1318.07 1192 1316.228 1188 1314.378 1184 1312.531 1180 1310.697 1176 1308.89 1172 1307.118 1168 1305.366 1164 1303.626 1160 1301.891 1156 1300.153 1152 1298.406 1148 1296.643 1144 1294.856 1140 1293.039 1136 1291.184 1132 1289.285 1128 1287.334 1124 1285.325 1120 1283.25 1116 1281.103 1112 1278.867 1108 1276.489 1104 1273.978 1100 1271.355 1096 1268.639 1092 1265.852 1088 1263.012 1084 1260.14 1080 1257.256 1076 1254.38 1072 1251.532 1068 1248.732 1064 1246 1060 1243.281 1056 1240.525 1052 1237.761 1048 1235.017 1044 1232.324 1040 1229.71 1036 1227.204 1032 1224.845 1028 1222.685 1024 1220.663 1020 1218.705 1016 1216.735 1012 1214.678 1008 1212.458 1004 1210 1000 1207.318 996 1204.464 992 1201.423 988 1198.178 984 1194.716 980 1191.019 976 1187.072 972 1182.788 968 1177.803 964 1172.25 960 1166.341 956 1160.29 952 1154.31 948 1148.58 944 1142.592 940 1136.343 936 1130.146 932 1124.315 928 1119.162 924 1115 920 1111.468 916 1108.031 912 1104.738 908 1101.64 904 1098.788 900 1096.234 896 1094.027 892 1092.218 888 1090.859 884 1090 880Z" fill="url(#gr4)"/></g>
<g style="mix-blend-mode:plus-lighter"><ellipse cx="1185" cy="701" rx="90" ry="24" fill="url(#gs)" opacity="0.036"/></g>
<g style="mix-blend-mode:plus-lighter"><ellipse cx="1152" cy="701" rx="306" ry="69" fill="url(#gs)" opacity="0.107"/></g>
<g filter="url(#bC8)" style="mix-blend-mode:plus-lighter"><path d="M925 935L1000 960L1160 1120L1180 1300H957L945 1140Z" fill="#fff" opacity="0.046"/></g>
<g style="mix-blend-mode:plus-lighter"><ellipse cx="984" cy="1040" rx="45" ry="108" fill="url(#gs)" opacity="0.039"/></g>
<g style="mix-blend-mode:plus-lighter"><ellipse cx="988.5" cy="935" rx="30" ry="63" fill="url(#gs)" opacity="0.3" transform="rotate(-32 988.5 935)"/></g>
</g></g>
<path d="M845 931.6H1478" stroke="#e8f0ff" stroke-width="1.8" fill="none"/>
<rect x="1062.9" y="689.4" width="12.8" height="595.6" fill="none" stroke="#e61217" stroke-width="2.9"/>
<path d="M1069.8 669.4V689" stroke="#f00d0d" stroke-width="4.4" fill="none"/>
<g stroke="#111" stroke-width="1.6" fill="none">
<path d="M855.5 690V1293.2H1478.5"/>
<path d="M855.5 690.6H1478.5" stroke-width="1.2"/>
<path d="M1478.5 690.6V1293" stroke-width="1"/>
<path d="M843.4 1293.4H855.5" stroke-width="2"/>
<path d="M849.3 1233.14H855.5" stroke-width="1.6"/>
<path d="M843.4 1172.88H855.5" stroke-width="2"/>
<path d="M849.3 1112.62H855.5" stroke-width="1.6"/>
<path d="M843.4 1052.36H855.5" stroke-width="2"/>
<path d="M849.3 992.1H855.5" stroke-width="1.6"/>
<path d="M843.4 931.84H855.5" stroke-width="2"/>
<path d="M849.3 871.58H855.5" stroke-width="1.6"/>
<path d="M843.4 811.32H855.5" stroke-width="2"/>
<path d="M849.3 751.06H855.5" stroke-width="1.6"/>
<path d="M843.4 690.8H855.5" stroke-width="2"/>
<path d="M959.2 1293V1304" stroke-width="2"/>
<path d="M1062.9 1293V1299.5" stroke-width="1.6"/>
<path d="M1166.6 1293V1304" stroke-width="2"/>
<path d="M1270.3 1293V1299.5" stroke-width="1.6"/>
<path d="M1374 1293V1304" stroke-width="2"/>
<path d="M1477.7 1293V1299.5" stroke-width="1.6"/>
</g>
<rect x="1481.5" y="694" width="16.5" height="28" fill="#fff"/>
<rect x="1481.5" y="721.4" width="16.5" height="27.76" fill="#FF0000"/>
<rect x="1481.5" y="748.56" width="16.5" height="27.76" fill="#FF3300"/>
<rect x="1481.5" y="775.72" width="16.5" height="27.76" fill="#FF6600"/>
<rect x="1481.5" y="802.88" width="16.5" height="27.76" fill="#FF9900"/>
<rect x="1481.5" y="830.04" width="16.5" height="27.76" fill="#FFCC00"/>
<rect x="1481.5" y="857.2" width="16.5" height="27.76" fill="#FFFF00"/>
<rect x="1481.5" y="884.36" width="16.5" height="27.76" fill="#BFFF00"/>
<rect x="1481.5" y="911.52" width="16.5" height="27.76" fill="#80FF00"/>
<rect x="1481.5" y="938.68" width="16.5" height="27.76" fill="#40FF00"/>
<rect x="1481.5" y="965.84" width="16.5" height="27.76" fill="#00FF00"/>
<rect x="1481.5" y="993" width="16.5" height="27.76" fill="#00FF33"/>
<rect x="1481.5" y="1020.16" width="16.5" height="27.76" fill="#00FF66"/>
<rect x="1481.5" y="1047.32" width="16.5" height="27.76" fill="#00FF99"/>
<rect x="1481.5" y="1074.48" width="16.5" height="27.76" fill="#00FFCC"/>
<rect x="1481.5" y="1101.64" width="16.5" height="27.76" fill="#00FFFF"/>
<rect x="1481.5" y="1128.8" width="16.5" height="27.76" fill="#00CCFF"/>
<rect x="1481.5" y="1155.96" width="16.5" height="27.76" fill="#0099FF"/>
<rect x="1481.5" y="1183.12" width="16.5" height="27.76" fill="#0066FF"/>
<rect x="1481.5" y="1210.28" width="16.5" height="27.76" fill="#0033FF"/>
<rect x="1481.5" y="1237.44" width="16.5" height="27.76" fill="#0000FF"/>
<rect x="1481.5" y="1264.6" width="16.5" height="27.6" fill="#000"/>
<rect x="1481.5" y="694" width="16.5" height="598.2" fill="none" stroke="#222" stroke-width="1.5"/>
<g font-size="43.78" class="b" fill="#000">
<path d="M1498 721.2H1508.8" stroke="#000" stroke-width="2"/>
<text transform="translate(1510.93 735.40) scale(0.9173 1)">6.7</text>
<path d="M1498 775.53H1508.8" stroke="#000" stroke-width="2"/>
<text transform="translate(1510.93 789.73) scale(0.9173 1)">6.0</text>
<path d="M1498 829.86H1508.8" stroke="#000" stroke-width="2"/>
<text transform="translate(1510.93 844.06) scale(0.9173 1)">5.4</text>
<path d="M1498 884.19H1508.8" stroke="#000" stroke-width="2"/>
<text transform="translate(1510.93 898.39) scale(0.9173 1)">4.8</text>
<path d="M1498 938.52H1508.8" stroke="#000" stroke-width="2"/>
<text transform="translate(1510.93 952.72) scale(0.9173 1)">4.2</text>
<path d="M1498 992.85H1508.8" stroke="#000" stroke-width="2"/>
<text transform="translate(1510.93 1007.05) scale(0.9173 1)">3.6</text>
<path d="M1498 1047.18H1508.8" stroke="#000" stroke-width="2"/>
<text transform="translate(1510.93 1061.38) scale(0.9173 1)">2.9</text>
<path d="M1498 1101.51H1508.8" stroke="#000" stroke-width="2"/>
<text transform="translate(1510.93 1115.71) scale(0.9173 1)">2.3</text>
<path d="M1498 1155.84H1508.8" stroke="#000" stroke-width="2"/>
<text transform="translate(1510.93 1170.04) scale(0.9173 1)">1.7</text>
<path d="M1498 1210.17H1508.8" stroke="#000" stroke-width="2"/>
<text transform="translate(1510.93 1224.37) scale(0.9173 1)">1.1</text>
<path d="M1498 1264.5H1508.8" stroke="#000" stroke-width="2"/>
<text transform="translate(1510.93 1278.70) scale(0.9173 1)">0.46</text>
</g>
<text class="b" font-size="42.94" transform="translate(810.44 1304.58) scale(0.9794 1)" fill="#000">0</text>
<text class="b" font-size="43.54" transform="translate(810.66 1184.48) scale(0.9541 1)" fill="#000">2</text>
<text class="b" font-size="44.19" transform="translate(811.53 1063.96) scale(0.8450 1)" fill="#000">4</text>
<text class="b" font-size="42.94" transform="translate(810.58 943.02) scale(0.9636 1)" fill="#000">6</text>
<text class="b" font-size="42.94" transform="translate(810.81 822.50) scale(0.9436 1)" fill="#000">8</text>
<text class="b" font-size="42.94" transform="translate(788.96 701.98) scale(0.9378 1)" fill="#000">10</text>
<text class="b" font-size="42.37" transform="translate(947.03 1345.19) scale(1.0247 1)" fill="#000">0</text>
<text class="b" font-size="42.37" transform="translate(1131.42 1345.19) scale(0.9655 1)" fill="#000">100</text>
<text class="b" font-size="42.37" transform="translate(1338.87 1345.19) scale(0.9735 1)" fill="#000">200</text>
<text class="b" font-size="44.84" transform="translate(800.09 1100.55) rotate(-90) scale(0.9172 1)" fill="#000">Distance (mm)</text>
<text class="b" font-size="42.91" transform="translate(1077.34 1407.59) scale(0.9552 1)" fill="#000">Time (ns)</text>
<text class="b" font-size="38.62" transform="translate(1291.84 662.39) scale(1.0672 1)" fill="#000">Emission (a. u.)</text>
<text font-style="italic" font-size="38.28" transform="translate(1040.74 657.03) scale(1.0045 1)" fill="#e8141c">50 ns</text>
<text font-size="59.68" transform="translate(1172.87 808.74) scale(1.0360 1)" fill="#3a3838" stroke="#3a3838" stroke-width="1.2" stroke-linejoin="round">( c)</text>
</svg>
</body></html>
